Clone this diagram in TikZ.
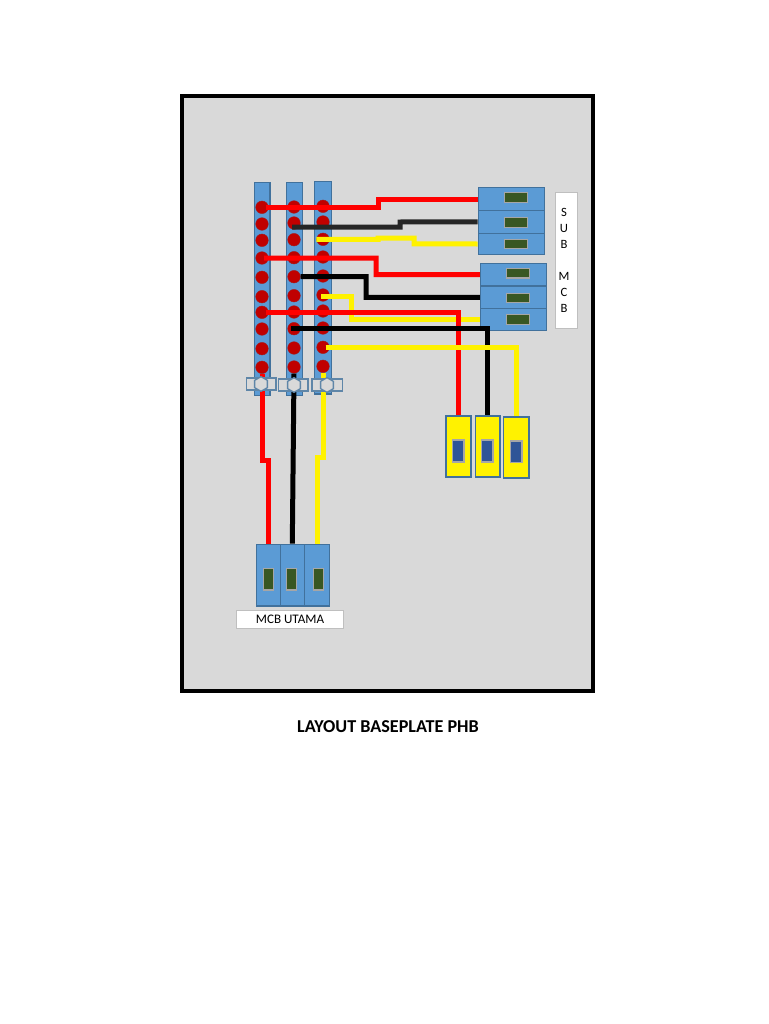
\documentclass[tikz,border=0pt]{standalone}
\usepackage{fontspec}
\setmainfont{Carlito}
\usetikzlibrary{calc,fit,shapes.geometric}

\begin{document}
\begin{tikzpicture}[x=0.75pt,y=-0.75pt,
    panel/.style={draw=black,line width=3pt,fill=panelgrey,inner sep=0pt},
    bar/.style={draw=bluedark,line width=1pt,fill=blueface,inner sep=0pt},
    dot/.style={circle,draw=reddark,line width=0.3pt,fill=reddot,inner sep=0pt,minimum size=9.5pt},
    clamp/.style={draw=clampline,line width=1pt,fill=panelgrey,inner sep=0pt},
    hexnut/.style={regular polygon,regular polygon sides=6,shape border rotate=30,draw=clampline,line width=1pt,fill=panelgrey,inner sep=0pt,minimum size=11pt},
    slot/.style={draw=bluedark,line width=1pt,fill=blueface,inner sep=0pt},
    yellowslot/.style={draw=bluedark,line width=1pt,fill=yellow,inner sep=0pt},
    window/.style={draw=windowline,line width=0.8pt,fill=windowgreen,inner sep=0pt},
    bluewindow/.style={draw=windowline,line width=0.8pt,fill=windowblue,inner sep=0pt},
    labelbox/.style={draw=labelline,line width=0.6pt,fill=white,inner sep=0pt},
    wire/.style={line width=3.75pt,line join=miter}]

    \definecolor{panelgrey}{HTML}{D9D9D9}
    \definecolor{bluedark}{HTML}{41719C}
    \definecolor{blueface}{HTML}{5B9BD5}
    \definecolor{reddot}{HTML}{C00000}
    \definecolor{reddark}{HTML}{A02020}
    \definecolor{clampline}{HTML}{5F86A8}
    \definecolor{windowline}{HTML}{A6A6A6}
    \definecolor{windowgreen}{HTML}{385723}
    \definecolor{windowblue}{HTML}{2F5597}
    \definecolor{labelline}{HTML}{BFBFBF}
    \definecolor{wireblack}{HTML}{000000}
    \definecolor{wiredark}{HTML}{262626}

    \useasboundingbox (0,0) rectangle (768,1024);

    % Draw the baseplate
    \node[panel,fit={(182,96) (593,691)}] (board) {};
    \node[font=\bfseries\fontsize{13.6}{16}\selectfont] (title) at (388,727) {LAYOUT BASEPLATE PHB};

    % Draw the three busbars
    \node[bar,fit={(254.7,182.7) (270,395.7)}] (bara) {};
    \node[bar,fit={(286.3,182.5) (302.7,395.5)}] (barb) {};
    \node[bar,fit={(314.7,181.7) (331.7,394)}] (barc) {};

    % Draw the screws on each busbar
    \foreach \y [count=\i] in {207.3,224,240.3,258,277.3,296.7,312.3,329,348.7,367.3}
        \node[dot] (a\i) at (262,\y) {};
    \foreach \y [count=\i] in {207,223,239.7,257.7,276.7,295.7,312,328.7,348,367}
        \node[dot] (b\i) at (294,\y) {};
    \foreach \y [count=\i] in {206.3,222,239.3,257,276,295,311,328,347.3,366.3}
        \node[dot] (c\i) at (323,\y) {};

    % Draw the sub MCB sections
    \foreach \n/\ya/\yb in {s1/187.7/210.3,s2/210.3/233.3,s3/233.3/254.7}
        \node[slot,fit={(478.3,\ya) (544.3,\yb)}] (\n) {};
    \foreach \n/\ya/\yb in {s4/263.3/286,s5/286/308.7,s6/308.7/330.3}
        \node[slot,fit={(480.5,\ya) (546.5,\yb)}] (\n) {};
    \foreach \n/\ya/\yb in {w1/192.5/202.5,w2/217.7/227.3,w3/239.3/248.7}
        \node[window,fit={(504.7,\ya) (527.3,\yb)}] (\n) {};
    \foreach \n/\ya/\yb in {w4/268.3/278,w5/293.3/302.7,w6/314.7/324.3}
        \node[window,fit={(506.7,\ya) (529.3,\yb)}] (\n) {};

    % Draw the sub MCB label
    \node[labelbox,fit={(555.7,192) (577.3,328.3)}] (sublabel) {};
    \node[font=\fontsize{9.5}{12}\selectfont,align=center] (subtext) at (564,260) {S\\U\\B\\[12pt]M\\C\\B};

    % Draw the yellow breakers
    \node[yellowslot,fit={(446,416) (471,477)}] (y1) {};
    \node[yellowslot,fit={(475.3,416) (500,477)}] (y2) {};
    \node[yellowslot,fit={(503.7,417) (529,478)}] (y3) {};
    \node[bluewindow,fit={(452.3,440) (464,462)}] (v1) {};
    \node[bluewindow,fit={(481.3,440) (493,462)}] (v2) {};
    \node[bluewindow,fit={(510.3,441) (522,462.7)}] (v3) {};

    % Draw the main MCB
    \node[slot,fit={(256.3,544.3) (280.3,606)}] (m1) {};
    \node[slot,fit={(280.3,544.3) (304.3,606)}] (m2) {};
    \node[slot,fit={(304.3,544.3) (329.7,606)}] (m3) {};
    \node[window,fit={(263.3,568.3) (273.7,590)}] (n1) {};
    \node[window,fit={(286.7,568.3) (296.7,590)}] (n2) {};
    \node[window,fit={(313.3,568.3) (323.7,590)}] (n3) {};
    \node[labelbox,fit={(236.7,610.3) (343.7,628)}] (mainlabel) {};
    \node[font=\fontsize{9.8}{11}\selectfont] (maintext) at (290,619.5) {MCB UTAMA};

    % Draw the wires from busbars to the sub MCB
    \draw[wire,red] ([xshift=3pt]a1.center) -| (378,199) -- (s1.west);
    \draw[wire,wiredark] ([shift={(-1.5pt,-3pt)}]b2.center) -| (400,222) -- (s2.west);
    \draw[wire,yellow] (c3.west) -- (378,239.3) -- (378,238) -- (414,238) -- (414,243.9) -- (s3.west);
    \draw[wire,red] ([xshift=1.5pt]a4.center) -| (376,274.6) -- (s4.west);
    \draw[wire,wireblack] (b5.east) -| (366,297.3) -- (s5.west);
    \draw[wire,yellow] ([shift={(-1.5pt,-1pt)}]c6.center) -| (351.5,319.5) -- (s6.west);

    % Draw the wires from busbars to the yellow breakers
    \draw[wire,red] ([xshift=3pt]a7.center) -| (y1.north);
    \draw[wire,wireblack] ([xshift=-2.2pt]b8.center) -| (y2.north);
    \draw[wire,yellow] ([xshift=2pt]c9.center) -| (y3.north);

    % Draw the wires from busbars to the main MCB
    \draw[wire,red] (a10.south) -- (262,460) -| (m1.north);
    \draw[wire,wireblack] (b10.south) -- (m2.north);
    \draw[wire,yellow] (c10.south) -- (323,457) -| (m3.north);

    % Draw the clamps over the busbars
    \node[clamp,fit={(246.3,378) (276,390)}] (clampa) {};
    \node[clamp,fit={(278.5,379) (308,391)}] (clampb) {};
    \node[clamp,fit={(312,379) (342.5,391)}] (clampc) {};
    \node[hexnut] (nuta) at (261,384) {};
    \node[hexnut] (nutb) at (294,385) {};
    \node[hexnut] (nutc) at (327,385) {};

\end{tikzpicture}
\end{document}
